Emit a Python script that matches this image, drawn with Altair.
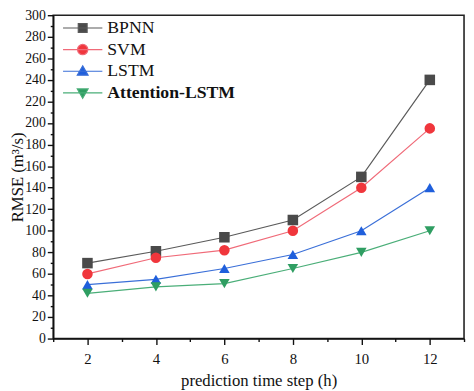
import altair as alt
import pandas as pd

steps = [2, 4, 6, 8, 10, 12]
names = ["BPNN", "SVM", "LSTM", "Attention-LSTM"]
bpnn = [70, 81, 94, 110, 150, 240]
svm = [60, 75, 82, 100, 140, 195]
lstm = [50, 55, 65, 78, 100, 140]
att = [42, 48, 51, 65, 80, 100]
y_ticks = list(range(0, 301, 10))
x_ticks = list(range(1, 14))

line_colors = ["#5a5a5a", "#f06a78", "#3a6fd8", "#4aae78"]
mark_colors = ["#4a4a4a", "#f0363c", "#1f5fdc", "#2f9e62"]
shapes = ["square", "circle", "triangle-up", "triangle-down"]
legend_shapes = [
    "M-4,0H4M-0.9,-0.9H0.9V0.9H-0.9Z",
    "M-4,0H4M-1.05,0A1.05,1.05 0 1,0 1.05,0A1.05,1.05 0 1,0 -1.05,0Z",
    "M-4,0H4M0,-1.1L1.1,0.8L-1.1,0.8Z",
    "M-4,0H4M0,1.1L1.1,-0.8L-1.1,-0.8Z",
]

rows = []
for n, vals in zip(names, [bpnn, svm, lstm, att]):
    for s, v in zip(steps, vals):
        rows.append({"step": s, "rmse": v, "model": n})
df = pd.DataFrame(rows)

FONT = "Liberation Serif"

x = alt.X("step:Q", scale=alt.Scale(domain=[1, 13], nice=False),
          axis=alt.Axis(values=x_ticks, title="prediction time step (h)",
                        labelExpr="datum.value % 2 == 0 ? datum.label : ''",
                        tickSize=alt.ExprRef("datum.value % 2 == 0 ? 6 : 3"),
                        labelFontSize=15, grid=False))
y = alt.Y("rmse:Q", scale=alt.Scale(domain=[0, 300], nice=False),
          axis=alt.Axis(values=y_ticks, title="RMSE (m³/s)",
                        labelExpr="datum.value % 20 == 0 ? datum.label : ''",
                        tickSize=alt.ExprRef("datum.value % 20 == 0 ? 6 : 3"),
                        titleX=-27, titleBaseline="bottom",
                        labelFontSize=14, grid=False))

base = alt.Chart(df)
lines = base.mark_line(strokeWidth=1.2).encode(
    x=x, y=y,
    color=alt.Color("model:N", scale=alt.Scale(domain=names, range=line_colors), legend=None),
    detail="model:N",
)
pts = base.mark_point(filled=True, size=115, opacity=1).encode(
    x=x, y=y,
    fill=alt.Fill("model:N", scale=alt.Scale(domain=names, range=mark_colors), legend=None),
    shape=alt.Shape("model:N", scale=alt.Scale(domain=names, range=shapes), legend=None),
)
main = alt.layer(lines, pts)

leg = base.transform_filter("datum.rmse < 0").mark_point(size=100, strokeWidth=1.2, opacity=1).encode(
    x=x, y=y,
    fill=alt.Fill("model:N", scale=alt.Scale(domain=names, range=mark_colors), title=None),
    stroke=alt.Stroke("model:N", scale=alt.Scale(domain=names, range=line_colors), title=None),
    shape=alt.Shape("model:N", scale=alt.Scale(domain=names, range=legend_shapes), title=None),
)

chart = alt.layer(main, leg).resolve_scale(
    color="independent", fill="independent", shape="independent", stroke="independent"
).properties(
    width=418, height=329,
    autosize=alt.AutoSizeParams(type="none"),
    padding={"left": 46, "top": 4, "right": 2, "bottom": 50},
).configure_view(
    stroke="#222", strokeWidth=1.6
).configure_axis(
    labelFont=FONT, titleFont=FONT, titleFontSize=17,
    titleFontWeight="normal", labelColor="#111", titleColor="#111",
    domainColor="#111", tickColor="#111", domainWidth=1.6, tickWidth=1.4,
    labelPadding=2,
).configure_axisX(
    titlePadding=7, labelPadding=7,
).configure_legend(
    orient="none", legendX=21, legendY=4, padding=0,
    labelFont=FONT, labelFontSize=18, labelColor="#111",
    labelFontWeight=alt.ExprRef("datum.value == 'Attention-LSTM' ? 'bold' : 'normal'"),
    labelOffset=16, rowPadding=4, symbolStrokeWidth=1.2,
)

chart.save("out.html", embed_options={"renderer": "svg", "actions": False})
